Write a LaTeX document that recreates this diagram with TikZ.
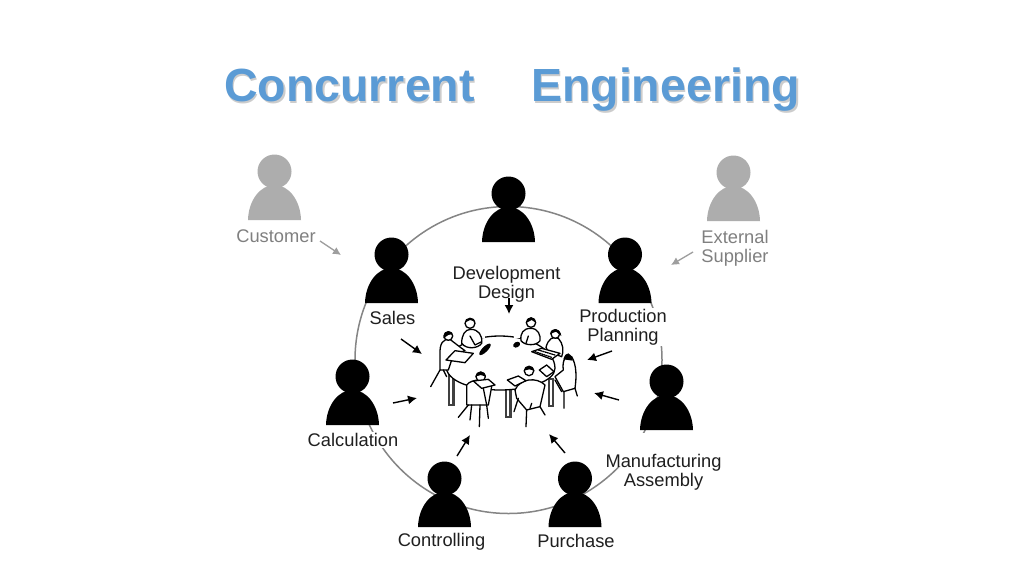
\documentclass[tikz,border=0pt]{standalone}
\usepackage{fontspec}
\setmainfont{Liberation Sans}
\usetikzlibrary{arrows.meta}
\begin{document}
\begin{tikzpicture}[x=1pt,y=-1pt,
  lbl/.style={font=\fontsize{18.3}{19.3}\selectfont,align=center,text=black!88,fill=white,inner sep=1pt},
  glbl/.style={font=\fontsize{18.3}{19.3}\selectfont,align=center,text=black!50,inner sep=1pt},
  ttl/.style={font=\fontsize{46.5}{50}\selectfont\bfseries,text=titleblue,inner sep=0pt,anchor=base west},
  shd/.style={font=\fontsize{46.5}{50}\selectfont\bfseries,text=black!50,opacity=.4,inner sep=0pt,anchor=base west},
  arr/.style={-{Latex[length=9pt,width=9pt]},line width=1.4pt,black},
  garr/.style={-{Latex[length=8pt,width=8pt]},line width=1.3pt,black!38},
  ink/.style={line width=1.3pt,black,line join=round,line cap=round},
  sit/.style={ink,fill=white}]
\definecolor{titleblue}{HTML}{5B9BD5}
\newcommand{\persona}[4]{% name,x,y,colour
  \coordinate (#1) at (#2,#3);
  \fill[#4] (#2,#3-48.5) circle (17);
  \fill[#4] (#2-26.5,#3) .. controls (#2-26,#3-20) and (#2-14,#3-35) .. (#2,#3-35)
     .. controls (#2+14,#3-35) and (#2+26,#3-20) .. (#2+26.5,#3) -- cycle;}
\useasboundingbox (0,0) rectangle (1024,576);
\fill[white] (0,0) rectangle (1024,576);
% title
\node[shd] at (225.5,103) {Concurrent};
\node[shd] at (532.5,103) {Engineering};
\node[ttl] (t1) at (224,101) {Concurrent};
\node[ttl] (t2) at (531,101) {Engineering};
% ring
\coordinate (ringc) at (508.5,360);
\draw[black!48,line width=1.5pt] (ringc) circle (153.5);
\fill[white] (600,433) rectangle (650,466);
% people
\persona{dev}{508.5}{242}{black}
\persona{sales}{391.5}{303}{black}
\persona{prod}{625}{303}{black}
\persona{manu}{666.5}{430}{black}
\persona{calc}{352.5}{425}{black}
\persona{ctrl}{444.5}{527}{black}
\persona{purc}{575}{527}{black}
\persona{cust}{274.5}{220}{black!32}
\persona{ext}{733.5}{221}{black!32}
% labels
\node[glbl] (lcust) at (276,236.5) {Customer};
\node[glbl] (lext) at (735,248) {External\\Supplier};
\node[lbl] (ldev) at (506.5,284) {Development\\Design};
\node[lbl] (lsales) at (392.5,317.5) {Sales};
\node[lbl] (lprod) at (623,327) {Production\\Planning};
\node[lbl,fill=none] (lmanu) at (663.5,472) {Manufacturing\\Assembly};
\node[lbl] (lcalc) at (353,440) {Calculation};
\node[lbl] (lctrl) at (441.5,542) {Controlling};
\node[lbl] (lpurc) at (576,541) {Purchase};
% table scene (coordinates of a 3x crop)
\begin{scope}[shift={(420,310)},x=0.3333pt,y=-0.3333pt]
  \coordinate (table) at (240,160);
  % table legs
  \fill[black!75] (84,190) rectangle (106,288);
  \fill[white] (91,200) rectangle (95,282);
  \fill[black!75] (255,235) rectangle (275,324);
  \fill[white] (262,240) rectangle (266,318);
  \fill[black!75] (385,205) rectangle (403,292);
  \fill[white] (391,210) rectangle (395,286);
  % table top
  \draw[ink,fill=white] (78,165) .. controls (85,110) and (160,78) .. (240,78)
     .. controls (330,78) and (405,120) .. (405,175)
     .. controls (405,215) and (320,240) .. (240,240)
     .. controls (160,240) and (75,215) .. (78,165) -- cycle;
  \fill[white] (180,70) rectangle (195,85);
  \fill[white] (282,70) rectangle (300,85);
  % top-left sitter
  \draw[sit] (125,100) .. controls (125,75) and (135,58) .. (152,58) .. controls (175,58) and (188,75) .. (185,100) .. controls (175,115) and (140,120) .. (125,100) -- cycle;
  \draw[sit] (150,40) circle (15);
  \fill (136,37) .. controls (142,20) and (162,20) .. (166,35) -- (150,30) -- cycle;
  \draw[ink] (150,78) -- (165,105) -- (185,95);
  \fill[rotate around={45:(195,118)}] (195,118) ellipse (23 and 8);
  % top-right sitter
  \draw[sit] (303,92) .. controls (300,70) and (310,55) .. (332,55) .. controls (355,55) and (362,75) .. (360,92) .. controls (350,108) and (315,108) .. (303,92) -- cycle;
  \draw[sit] (333,38) circle (14);
  \fill (320,38) .. controls (320,16) and (347,16) .. (347,38) -- (335,30) -- cycle;
  \draw[ink] (325,78) -- (318,100);
  \fill[rotate around={30:(290,104)}] (290,104) ellipse (11 and 8);
  % left sitter
  \draw[sit] (60,135) .. controls (58,100) and (70,85) .. (90,88) .. controls (105,100) and (125,115) .. (135,122) -- (100,135) -- (85,180) -- (60,180) -- cycle;
  \draw[sit] (85,78) circle (13);
  \fill (70,85) .. controls (70,60) and (95,60) .. (98,72) -- (85,75) -- cycle;
  \draw[sit] (78,150) -- (135,158) -- (160,130) -- (105,122) -- cycle;
  \draw[ink] (60,180) -- (32,230) (70,180) -- (80,200);
  % right sitter upper
  \draw[sit] (378,112) .. controls (385,85) and (400,78) .. (415,85) .. controls (430,100) and (432,125) .. (425,140) -- (385,125) -- cycle;
  \draw[sit] (406,72) circle (13);
  \fill (390,72) .. controls (393,50) and (422,53) .. (424,78) -- (408,65) -- cycle;
  \draw[sit] (335,125) -- (395,148) -- (420,130) -- (365,115) -- cycle;
  \draw[ink,densely dotted] (345,125) -- (395,142) (355,120) -- (405,135);
  % right sitter lower
  \draw[sit] (430,180) .. controls (425,150) and (440,130) .. (455,140) .. controls (470,165) and (470,200) .. (465,235) -- (430,245) -- (405,200) -- cycle;
  \fill (430,148) .. controls (437,122) and (454,125) .. (458,152) -- (445,150) -- cycle;
  \draw[sit] (358,180) -- (380,200) -- (402,185) -- (380,165) -- cycle;
  \draw[ink] (432,245) -- (432,295) (465,235) -- (472,258) (405,210) -- (425,245);
  % bottom-left sitter
  \draw[sit] (140,225) .. controls (155,205) and (200,205) .. (215,230) -- (205,285) -- (140,285) -- cycle;
  \draw[sit] (182,200) circle (14);
  \fill (166,200) .. controls (172,180) and (194,180) .. (198,200) -- (182,195) -- cycle;
  \draw[sit] (160,213) -- (205,208) -- (225,225) -- (185,235) -- cycle;
  \draw[ink] (145,285) -- (115,322) (155,285) -- (150,330) (180,285) -- (178,350) (200,285) -- (205,325) (190,235) -- (200,285);
  % bottom-right sitter
  \draw[sit] (285,240) .. controls (300,205) and (350,200) .. (375,225) -- (360,290) -- (320,300) -- (290,265) -- cycle;
  \draw[sit] (327,183) circle (14);
  \fill (311,182) .. controls (316,163) and (340,163) .. (344,182) -- (328,178) -- cycle;
  \draw[sit] (262,210) -- (295,198) -- (318,212) -- (285,228) -- cycle;
  \draw[ink] (320,300) -- (318,350) (295,265) -- (282,305) (360,290) -- (375,315) (335,280) -- (330,295);
\end{scope}
% arrows
\coordinate (a1s) at (509,298); \coordinate (a1e) at (509,314);
\coordinate (a2s) at (401,339); \coordinate (a2e) at (422,354);
\coordinate (a3s) at (612,351); \coordinate (a3e) at (587,360);
\coordinate (a4s) at (619,400); \coordinate (a4e) at (594,393);
\coordinate (a5s) at (565,453); \coordinate (a5e) at (549,434);
\coordinate (a6s) at (457,456); \coordinate (a6e) at (470,435);
\coordinate (a7s) at (393,403); \coordinate (a7e) at (417,398);
\coordinate (a8s) at (320,241); \coordinate (a8e) at (341,255);
\coordinate (a9s) at (693,252); \coordinate (a9e) at (671,265);
\foreach \i in {1,...,7} \draw[arr] (a\i s) -- (a\i e);
\foreach \i in {8,9} \draw[garr] (a\i s) -- (a\i e);
\end{tikzpicture}
\end{document}
